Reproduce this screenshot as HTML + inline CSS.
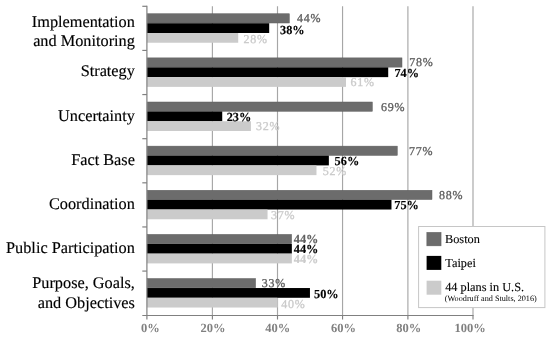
<!DOCTYPE html>
<html><head><meta charset="utf-8"><title>Chart</title>
<style>
html,body{margin:0;padding:0;background:#fff;}
svg{display:block;font-family:"Liberation Serif",serif;text-rendering:geometricPrecision;}
.c{font-size:16.3px;fill:#000;text-anchor:end;stroke:#000;stroke-width:0.15px;}
.v{font-size:12px;stroke-width:0.32px;letter-spacing:0.75px;}
.vb{font-size:12.3px;font-weight:bold;stroke-width:0.15px;}
.x{font-size:12.5px;font-weight:bold;fill:#808080;}
.l{font-size:12.3px;fill:#000;stroke:#000;stroke-width:0.1px;}
.s{font-size:8.2px;fill:#000;}
</style></head><body>
<svg width="550" height="337" viewBox="0 0 550 337">
<rect width="550" height="337" fill="#fff"/>
<line x1="212.40" y1="6.30" x2="212.40" y2="315.21" stroke="#a6a6a6" stroke-width="1.15"/>
<line x1="277.50" y1="6.30" x2="277.50" y2="315.21" stroke="#a6a6a6" stroke-width="1.15"/>
<line x1="342.55" y1="6.30" x2="342.55" y2="315.21" stroke="#a6a6a6" stroke-width="1.15"/>
<line x1="407.90" y1="6.30" x2="407.90" y2="315.21" stroke="#a6a6a6" stroke-width="1.15"/>
<line x1="473.00" y1="6.30" x2="473.00" y2="315.21" stroke="#a6a6a6" stroke-width="1.15"/>
<rect x="147.15" y="13.75" width="142.17" height="9.25" fill="#6c6c6c" stroke="#5c5c5c" stroke-width="0.5"/>
<rect x="146.90" y="23.25" width="122.29" height="9.75" fill="#000"/>
<rect x="146.90" y="33.00" width="91.31" height="9.75" fill="#cbcbcb"/>
<rect x="147.15" y="57.88" width="254.84" height="9.25" fill="#6c6c6c" stroke="#5c5c5c" stroke-width="0.5"/>
<rect x="146.90" y="67.38" width="241.31" height="9.75" fill="#000"/>
<rect x="146.90" y="77.13" width="199.08" height="9.75" fill="#cbcbcb"/>
<rect x="147.15" y="102.01" width="225.16" height="9.25" fill="#6c6c6c" stroke="#5c5c5c" stroke-width="0.5"/>
<rect x="146.90" y="111.51" width="75.33" height="9.75" fill="#000"/>
<rect x="146.90" y="121.26" width="104.03" height="9.75" fill="#cbcbcb"/>
<rect x="147.15" y="146.14" width="250.11" height="9.25" fill="#6c6c6c" stroke="#5c5c5c" stroke-width="0.5"/>
<rect x="146.90" y="155.64" width="181.96" height="9.75" fill="#000"/>
<rect x="146.90" y="165.39" width="169.57" height="9.75" fill="#cbcbcb"/>
<rect x="147.15" y="190.27" width="284.84" height="9.25" fill="#6c6c6c" stroke="#5c5c5c" stroke-width="0.5"/>
<rect x="146.90" y="199.77" width="244.58" height="9.75" fill="#000"/>
<rect x="146.90" y="209.52" width="120.66" height="9.75" fill="#cbcbcb"/>
<rect x="147.15" y="234.40" width="144.45" height="9.25" fill="#6c6c6c" stroke="#5c5c5c" stroke-width="0.5"/>
<rect x="146.90" y="243.90" width="144.95" height="9.75" fill="#000"/>
<rect x="146.90" y="253.65" width="144.95" height="9.75" fill="#cbcbcb"/>
<rect x="147.15" y="278.53" width="108.42" height="9.25" fill="#6c6c6c" stroke="#5c5c5c" stroke-width="0.5"/>
<rect x="146.90" y="288.03" width="163.05" height="9.75" fill="#000"/>
<rect x="146.90" y="297.78" width="130.77" height="9.75" fill="#cbcbcb"/>
<line x1="146.90" y1="5.80" x2="146.90" y2="319.51" stroke="#808080" stroke-width="1.2"/>
<line x1="142.30" y1="315.41" x2="473.60" y2="315.41" stroke="#808080" stroke-width="1.05"/>
<line x1="142.30" y1="6.30" x2="146.90" y2="6.30" stroke="#808080" stroke-width="1.2"/>
<line x1="142.30" y1="50.43" x2="146.90" y2="50.43" stroke="#808080" stroke-width="1.2"/>
<line x1="142.30" y1="94.56" x2="146.90" y2="94.56" stroke="#808080" stroke-width="1.2"/>
<line x1="142.30" y1="138.69" x2="146.90" y2="138.69" stroke="#808080" stroke-width="1.2"/>
<line x1="142.30" y1="182.82" x2="146.90" y2="182.82" stroke="#808080" stroke-width="1.2"/>
<line x1="142.30" y1="226.95" x2="146.90" y2="226.95" stroke="#808080" stroke-width="1.2"/>
<line x1="142.30" y1="271.08" x2="146.90" y2="271.08" stroke="#808080" stroke-width="1.2"/>
<line x1="212.40" y1="315.21" x2="212.40" y2="319.51" stroke="#808080" stroke-width="1.15"/>
<line x1="277.50" y1="315.21" x2="277.50" y2="319.51" stroke="#808080" stroke-width="1.15"/>
<line x1="342.55" y1="315.21" x2="342.55" y2="319.51" stroke="#808080" stroke-width="1.15"/>
<line x1="407.90" y1="315.21" x2="407.90" y2="319.51" stroke="#808080" stroke-width="1.15"/>
<line x1="473.00" y1="315.21" x2="473.00" y2="319.51" stroke="#808080" stroke-width="1.15"/>
<text class="v" x="297.1" y="21.9" fill="#5e5e5e" stroke="#5e5e5e">44%</text>
<text class="vb" x="280.0" y="34.0" fill="#000" stroke="#000">38%</text>
<text class="v" x="243.6" y="42.6" fill="#cbcbcb" stroke="#cbcbcb">28%</text>
<text class="v" x="409.3" y="66.4" fill="#5e5e5e" stroke="#5e5e5e">78%</text>
<text class="vb" x="394.4" y="76.9" fill="#000" stroke="#000">74%</text>
<text class="v" x="350.6" y="86.4" fill="#cbcbcb" stroke="#cbcbcb">61%</text>
<text class="v" x="380.9" y="110.9" fill="#5e5e5e" stroke="#5e5e5e">69%</text>
<text class="vb" x="226.7" y="121.3" fill="#000" stroke="#000">23%</text>
<text class="v" x="255.9" y="130.4" fill="#cbcbcb" stroke="#cbcbcb">32%</text>
<text class="v" x="409.1" y="155.2" fill="#5e5e5e" stroke="#5e5e5e">77%</text>
<text class="vb" x="334.6" y="165.3" fill="#000" stroke="#000">56%</text>
<text class="v" x="322.8" y="174.9" fill="#cbcbcb" stroke="#cbcbcb">52%</text>
<text class="v" x="439.1" y="198.7" fill="#5e5e5e" stroke="#5e5e5e">88%</text>
<text class="vb" x="394.3" y="209.1" fill="#000" stroke="#000">75%</text>
<text class="v" x="270.9" y="218.9" fill="#cbcbcb" stroke="#cbcbcb">37%</text>
<text class="vb" x="293.8" y="242.7" fill="#5e5e5e" stroke="#5e5e5e">44%</text>
<text class="vb" x="293.8" y="253.4" fill="#000" stroke="#000">44%</text>
<text class="vb" x="293.8" y="263.4" fill="#cbcbcb" stroke="#cbcbcb">44%</text>
<text class="v" x="261.8" y="286.7" fill="#5e5e5e" stroke="#5e5e5e">33%</text>
<text class="vb" x="314.0" y="298.2" fill="#000" stroke="#000">50%</text>
<text class="v" x="281.3" y="307.6" fill="#cbcbcb" stroke="#cbcbcb">40%</text>
<text class="x" x="141.0" y="332.2">0%</text>
<text class="x" x="200.4" y="332.2">20%</text>
<text class="x" x="265.3" y="332.2">40%</text>
<text class="x" x="330.9" y="332.2">60%</text>
<text class="x" x="396.3" y="332.2">80%</text>
<text class="x" x="454.6" y="332.2">100%</text>
<text class="c" x="134.9" y="26.7">Implementation</text>
<text class="c" x="134.9" y="46.2">and Monitoring</text>
<text class="c" x="134.9" y="76.4">Strategy</text>
<text class="c" x="134.9" y="120.8">Uncertainty</text>
<text class="c" x="134.9" y="164.8">Fact Base</text>
<text class="c" x="134.9" y="208.9">Coordination</text>
<text class="c" x="134.9" y="253.1">Public Participation</text>
<text class="c" x="134.9" y="288.4">Purpose, Goals,</text>
<text class="c" x="134.9" y="307.7">and Objectives</text>
<rect x="418.6" y="226.5" width="126.3" height="81.1" fill="#fff" stroke="#c6c6c6" stroke-width="1"/>
<rect x="426.85" y="232.35" width="14.2" height="13.5" fill="#6c6c6c" stroke="#5c5c5c" stroke-width="0.5"/>
<rect x="426.6" y="255.9" width="14.7" height="14" fill="#000"/>
<rect x="426.6" y="280.7" width="14.7" height="14" fill="#cbcbcb"/>
<text class="l" x="445.0" y="242.9">Boston</text>
<text class="l" x="445.3" y="266.9">Taipei</text>
<text class="l" x="445.2" y="291.3">44 plans in U.S.</text>
<text class="s" x="444.8" y="301.2">(Woodruff and Stults, 2016)</text>
</svg>
</body></html>
